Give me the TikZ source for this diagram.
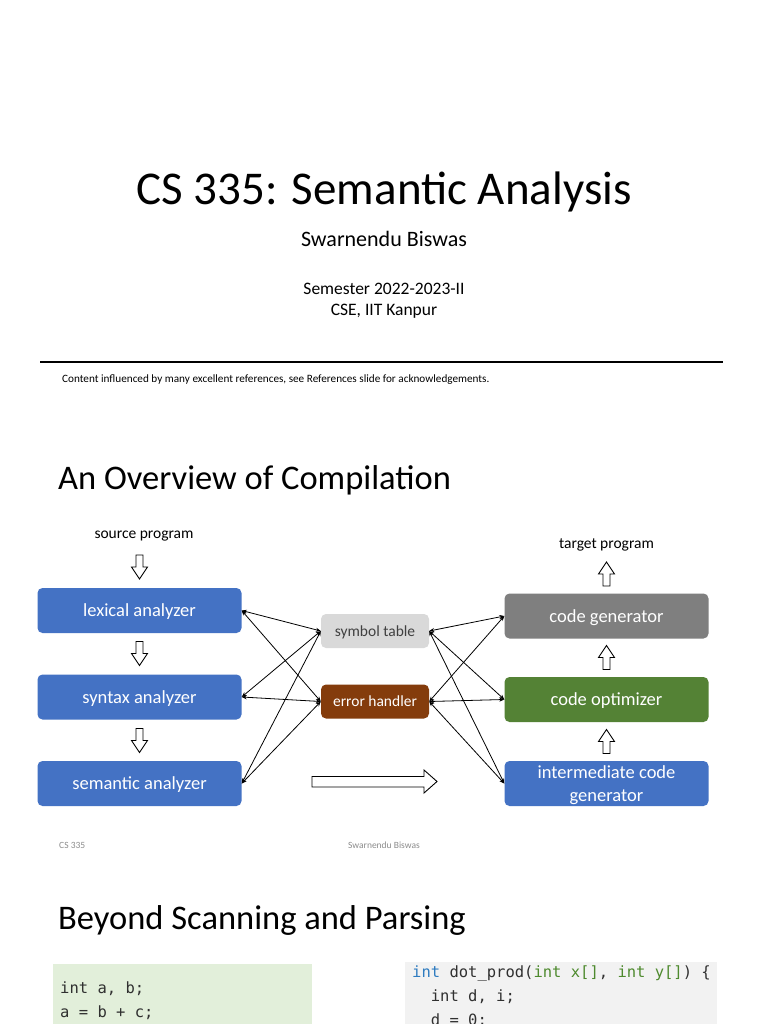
\documentclass[tikz,border=0pt]{standalone}
\usepackage{fontspec}
\setmainfont{Carlito}
\newfontfamily\codefont{DejaVu Sans Mono}
\usetikzlibrary{arrows.meta}
\definecolor{boxblue}{HTML}{4472C4}
\definecolor{boxgray}{HTML}{7F7F7F}
\definecolor{boxgreen}{HTML}{548235}
\definecolor{boxbrown}{HTML}{843C0C}
\definecolor{boxlight}{HTML}{D9D9D9}
\definecolor{txtdark}{HTML}{404040}
\definecolor{footgray}{HTML}{8C8C8C}
\definecolor{codegreenbg}{HTML}{E2EFDA}
\definecolor{codegraybg}{HTML}{F2F2F2}
\definecolor{codeblue}{HTML}{2F7CC0}
\definecolor{codegreen}{HTML}{4E8A2E}
\definecolor{codetxt}{HTML}{303030}
\newcommand{\fsz}[1]{\fontsize{#1}{#1}\selectfont}
\tikzset{
  phase/.style={rounded corners=5pt, minimum width=204pt, minimum height=45pt, inner sep=0pt,
    text=white, font=\fsz{18.5}, align=center, text depth=0pt},
  midbox/.style={rounded corners=5pt, minimum width=108pt, minimum height=34pt, inner sep=0pt,
    font=\fsz{15.5}, text depth=0pt},
  conn/.style={<->, >={Stealth[length=5pt,width=4pt]}, line width=0.8pt, black},
  blk/.style={draw=black, fill=white, line width=0.9pt, line join=miter},
  downblk/.pic={\draw[blk] (-3.5,0) -- (-3.5,12) -- (-8,12) -- (0,24) -- (8,12) -- (3.5,12) -- (3.5,0) -- cycle;},
  upblk/.pic={\draw[blk] (-3.5,0) -- (-3.5,-12) -- (-8,-12) -- (0,-24) -- (8,-12) -- (3.5,-12) -- (3.5,0) -- cycle;},
  lbl/.style={inner sep=0pt, font=\fsz{15.5}, text=black},
  codeln/.style={inner sep=0pt, anchor=west, font=\codefont\fsz{15.5}, text=codetxt},
}
\begin{document}
\begin{tikzpicture}[x=1pt,y=-1pt]
\useasboundingbox (0,0) rectangle (768,1024);
\fill[white] (0,0) rectangle (768,1024);

% ---------- Title slide ----------
\node[inner sep=0pt, font=\fsz{47}] (title) at (384,192) {CS 335: Semantic Analysis};
\node[inner sep=0pt, font=\fsz{22}] (author) at (384,239) {Swarnendu Biswas};
\node[inner sep=0pt, font=\fsz{17.5}] (sem) at (384,289) {Semester 2022-2023-II};
\node[inner sep=0pt, font=\fsz{17.5}] (inst) at (384,311) {CSE, IIT Kanpur};
\coordinate (rulel) at (40,362);
\coordinate (ruler) at (723,362);
\draw[line width=2pt] (rulel) -- (ruler);
\node[inner sep=0pt, anchor=west, font=\fsz{11.2}] (credit) at (62,380) {Content influenced by many excellent references, see References slide for acknowledgements.};

% ---------- Overview slide ----------
\node[inner sep=0pt, anchor=west, font=\fsz{34.5}] (ovtitle) at (58,480) {An Overview of Compilation};

\node[lbl] (src) at (144,536.5) {source program};
\node[lbl] (tgt) at (606.5,544.5) {target program};

\node[phase, fill=boxblue] (lex) at (139.5,610.5) {lexical analyzer};
\node[phase, fill=boxblue] (syn) at (139.5,697) {syntax analyzer};
\node[phase, fill=boxblue] (sem2) at (139.5,783.5) {semantic analyzer};

\node[midbox, fill=boxlight, text=txtdark] (sym) at (375,631) {symbol table};
\node[midbox, fill=boxbrown, text=white] (err) at (375,701.5) {error handler};

\node[phase, fill=boxgray] (cg) at (606.5,616) {code generator};
\node[phase, fill=boxgreen] (opt) at (606.5,699.5) {code optimizer};
\node[phase, fill=boxblue, font=\fontsize{18.5}{22.5}\selectfont] (icg) at (606.5,783.5) {intermediate code\\generator};

% block arrows
\pic at (139.5,555) {downblk};
\pic at (139.5,641.5) {downblk};
\pic at (139.5,728.5) {downblk};
\pic at (606.5,586) {upblk};
\pic at (606.5,669.5) {upblk};
\pic at (606.5,753.5) {upblk};
\draw[blk] (312,776.5) -- (424,776.5) -- (424,770) -- (437,781.5) -- (424,793) -- (424,787) -- (312,787) -- cycle;

% connectors
\foreach \a in {lex,syn,sem2}{
  \draw[conn] (\a.east) -- (sym.west);
  \draw[conn] (\a.east) -- (err.west);
}
\foreach \b in {cg,opt,icg}{
  \draw[conn] (sym.east) -- (\b.west);
  \draw[conn] (err.east) -- (\b.west);
}

% footer
\node[inner sep=0pt, anchor=west, font=\fsz{9.5}, text=footgray] (foot1) at (59,845) {CS 335};
\node[inner sep=0pt, font=\fsz{9.5}, text=footgray] (foot2) at (384,845) {Swarnendu Biswas};

% ---------- Third slide ----------
\node[inner sep=0pt, anchor=west, font=\fsz{34.5}] (bytitle) at (58,920) {Beyond Scanning and Parsing};

\fill[codegreenbg] (53,964) rectangle (312,1060);
\fill[codegraybg] (405,962) rectangle (717,1060);

\node[codeln] (l1) at (60,989) {int a, b;};
\node[codeln] (l2) at (60,1013) {a = b + c;};

\node[codeln] (r1) at (412,973) {\textcolor{codeblue}{int} dot\_prod(\textcolor{codegreen}{int x[]}, \textcolor{codegreen}{int y[]}) \{};
\node[codeln] (r2) at (412,997) {\phantom{xx}int d, i;};
\node[codeln] (r3) at (412,1021) {\phantom{xx}d = 0;};
\end{tikzpicture}
\end{document}
